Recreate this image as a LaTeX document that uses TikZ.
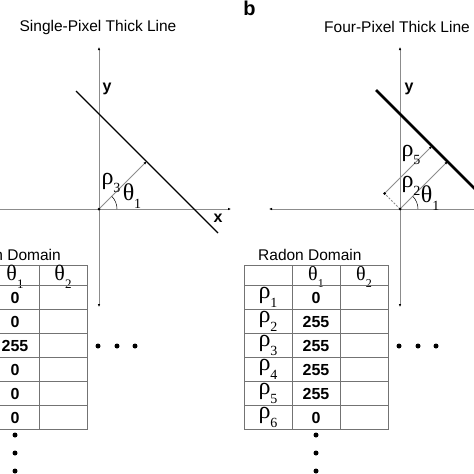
\documentclass[tikz,border=0pt]{standalone}
\usepackage{fontspec}
\setmainfont{Liberation Sans}
\newfontfamily\grk{Liberation Serif}
\usetikzlibrary{arrows.meta}
\newcommand\gs[4]{{\mdseries\fontsize{#1}{#1}\selectfont\grk #3\raisebox{-0.36em}{\fontsize{#2}{#2}\selectfont #4}}}
\definecolor{axgray}{gray}{0.55}
\definecolor{tabgray}{gray}{0.45}
\tikzset{
  axis/.style={draw=axgray, line width=0.9pt},
  tip/.style={-{Latex[length=3pt,width=2.6pt,black]}},
  lbl/.style={inner sep=0pt, font=\fontsize{15.5}{18}\selectfont},
  bl/.style={inner sep=0pt, font=\fontsize{16}{18}\selectfont\bfseries},
  cell/.style={draw=tabgray, line width=0.9pt, minimum width=48pt, minimum height=24pt, inner sep=0pt, font=\fontsize{16}{18}\selectfont\bfseries},
  hcell/.style={cell, minimum height=20pt},
  pdot/.style={circle, fill=black, inner sep=0pt, minimum size=5pt},
  odot/.style={circle, fill=black, inner sep=0pt, minimum size=3pt},
  vec/.style={draw=axgray, line width=0.8pt},
}
\begin{document}
\begin{tikzpicture}[x=1pt,y=-1pt]
\useasboundingbox (0,0) rectangle (474,474);
\clip (0,0) rectangle (474,474);
\fill[white] (0,0) rectangle (474,474);

% ---------------- left panel ----------------
\node[lbl] (t1) at (98,27) {Single-Pixel Thick Line};
\coordinate (o1) at (99,209);
\coordinate (ya1) at (99,47);
\coordinate (yb1) at (99,307);
\coordinate (xa1) at (-5,209);
\coordinate (xb1) at (231,209);
\draw[axis,tip] (o1) -- (ya1);
\draw[axis,tip] (o1) -- (yb1);
\draw[axis,tip] (xa1) -- (xb1);
\node[bl] (ylab1) at (107,89) {y};
\node[bl] (xlab1) at (218,218) {x};
\coordinate (l1a) at (76,91);
\coordinate (l1b) at (218,233);
\draw[line width=1.2pt] (l1a) -- (l1b);
\coordinate (p1) at (146.5,161.5);
\draw[vec,tip] (o1) -- (p1);
\node[odot] (od1) at (o1) {};
\draw[line width=0.5pt] (117,209) arc[start angle=0,end angle=-45,radius=18];
\node[inner sep=0pt] (rho3) at (111,183) {\gs{24}{14}{ρ}{3}};
\node[inner sep=0pt] (th1a) at (132,196) {\gs{24}{14}{θ}{1}};

% left table
\node[lbl, anchor=east] (rd1) at (61,255) {Radon Domain};
\foreach \c/\x in {0/-33,1/15,2/63}{
  \node[hcell] (L-0-\c) at (\x,275.5) {};
}
\node[inner sep=0pt] (Lh1) at (15,277) {\gs{22}{13}{θ}{1}};
\node[inner sep=0pt] (Lh2) at (63,277) {\gs{22}{13}{θ}{2}};
\foreach \r/\v in {1/0,2/0,3/255,4/0,5/0,6/0}{
  \node[cell] (L-\r-0) at (-33,{285.5+24*\r-12}) {};
  \node[cell] (L-\r-1) at (15,{285.5+24*\r-12}) {\v};
  \node[cell] (L-\r-2) at (63,{285.5+24*\r-12}) {};
}
\foreach \y [count=\i] in {435,453,471}{ \node[pdot] (Lv\i) at (15,\y) {}; }
\foreach \x [count=\i] in {98,117,135}{ \node[pdot] (Lh\i d) at (\x,346) {}; }

% ---------------- right panel ----------------
\node[inner sep=0pt, font=\fontsize{20}{22}\selectfont\bfseries] (blab) at (249.5,8.5) {b};
\node[lbl, anchor=west] (t2) at (324,27) {Four-Pixel Thick Line};
\coordinate (o2) at (400,209);
\coordinate (ya2) at (400,47);
\coordinate (yb2) at (400,307);
\coordinate (xa2) at (269,209);
\coordinate (xb2) at (480,209);
\draw[axis,tip] (o2) -- (ya2);
\draw[axis,tip] (o2) -- (yb2);
\draw[axis,tip] (xb2) -- (xa2);
\node[bl] (ylab2) at (409,89) {y};
\coordinate (l2a) at (376,90);
\coordinate (l2b) at (480,194);
\draw[line width=2.8pt] (l2a) -- (l2b);
\coordinate (p2) at (447.5,161.5);
\draw[vec,tip] (o2) -- (p2);
\coordinate (q0) at (384.5,193.5);
\coordinate (q1) at (432,146);
\draw[vec,tip] (q0) -- (q1);
\draw[vec,dashed,dash pattern=on 2pt off 1.5pt] (o2) -- (q0);
\node[odot] (od2) at (o2) {};
\node[odot] (od3) at (q0) {};
\draw[line width=0.5pt] (418,209) arc[start angle=0,end angle=-45,radius=18];
\node[inner sep=0pt] (rho5) at (411,155) {\gs{24}{14}{ρ}{5}};
\node[inner sep=0pt] (rho2) at (411,186) {\gs{24}{14}{ρ}{2}};
\node[inner sep=0pt] (th1b) at (430,198) {\gs{24}{14}{θ}{1}};

% right table
\node[lbl, anchor=west] (rd2) at (258,255) {Radon Domain};
\foreach \c/\x in {0/268,1/316,2/364}{
  \node[hcell] (R-0-\c) at (\x,275.5) {};
}
\node[inner sep=0pt] (Rh1) at (316,277) {\gs{20}{12}{θ}{1}};
\node[inner sep=0pt] (Rh2) at (364,277) {\gs{20}{12}{θ}{2}};
\foreach \r/\v in {1/0,2/255,3/255,4/255,5/255,6/0}{
  \node[cell] (R-\r-0) at (268,{285.5+24*\r-12}) {\gs{24}{14}{ρ}{\r}};
  \node[cell] (R-\r-1) at (316,{285.5+24*\r-12}) {\v};
  \node[cell] (R-\r-2) at (364,{285.5+24*\r-12}) {};
}
\foreach \y [count=\i] in {435,453,471}{ \node[pdot] (Rv\i) at (316,\y) {}; }
\foreach \x [count=\i] in {399,418,436}{ \node[pdot] (Rh\i d) at (\x,346) {}; }
\end{tikzpicture}
\end{document}
